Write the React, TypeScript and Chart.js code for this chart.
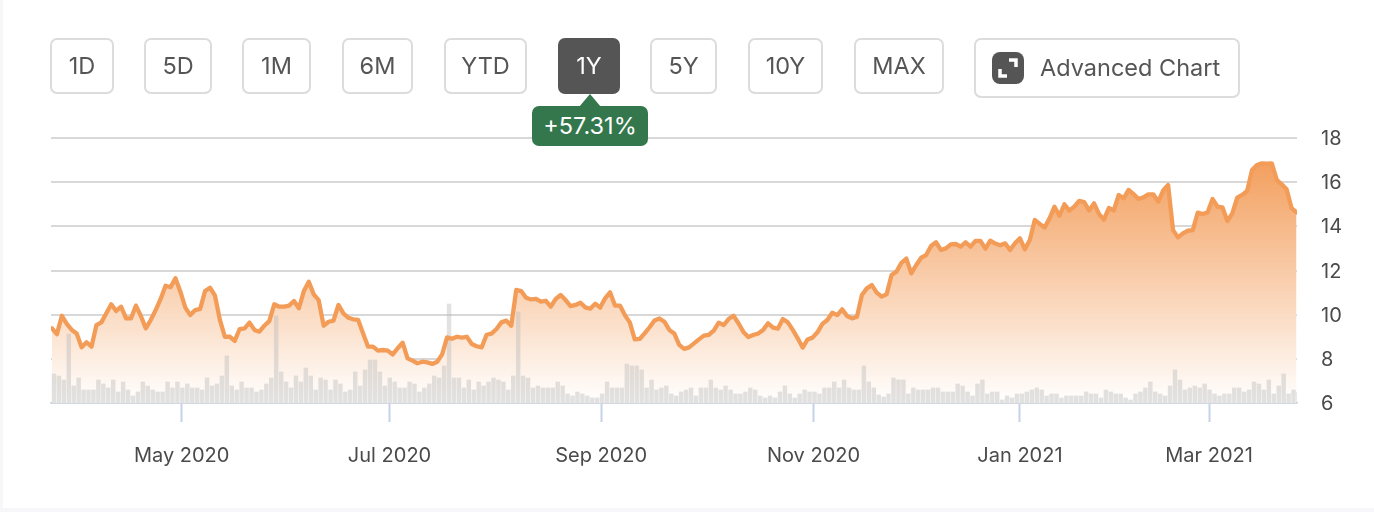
import React, { useEffect, useRef } from "react";
import { Chart, registerables } from "chart.js";

Chart.register(...registerables);

const FONT = "Inter, 'Noto Sans', sans-serif";

const prices = [
  9.38, 9.12, 9.95, 9.58, 9.31, 9.15, 8.52, 8.75, 8.55, 9.53, 9.65, 10.06, 10.47, 10.17, 10.36, 9.83, 9.83, 10.41, 9.94, 9.38,
  9.76, 10.21, 10.71, 11.31, 11.24, 11.65, 11.04, 10.32, 9.98, 10.21, 10.26, 11.07, 11.22, 10.86, 9.76, 9.0, 9.0, 8.81, 9.35, 9.38,
  9.64, 9.31, 9.23, 9.5, 9.71, 10.47, 10.36, 10.36, 10.41, 10.62, 10.29, 11.07, 11.49, 10.92, 10.66, 9.5, 9.68, 9.73, 10.44, 10.06,
  9.86, 9.79, 9.76, 9.15, 8.55, 8.55, 8.37, 8.4, 8.37, 8.2, 8.48, 8.73, 8.02, 7.92, 7.8, 7.87, 7.84, 7.77, 7.87, 8.2,
  8.97, 8.91, 9.0, 8.96, 9.0, 8.67, 8.57, 8.52, 9.09, 9.14, 9.35, 9.65, 9.73, 9.5, 11.12, 11.07, 10.77, 10.69, 10.72, 10.59,
  10.63, 10.36, 10.71, 10.89, 10.66, 10.39, 10.44, 10.54, 10.33, 10.27, 10.5, 10.32, 10.74, 11.01, 10.41, 10.41, 9.98, 9.65, 8.88, 8.9,
  9.15, 9.43, 9.74, 9.83, 9.68, 9.31, 9.15, 8.63, 8.45, 8.52, 8.7, 8.88, 9.05, 9.09, 9.28, 9.64, 9.53, 9.8, 9.95, 9.61,
  9.22, 8.99, 9.08, 9.15, 9.31, 9.61, 9.41, 9.37, 9.8, 9.65, 9.31, 8.93, 8.51, 8.88, 8.96, 9.2, 9.58, 9.76, 10.09, 9.98,
  10.24, 9.94, 9.83, 9.91, 10.89, 11.19, 11.34, 11.0, 10.82, 10.92, 11.8, 11.95, 12.35, 12.54, 11.87, 12.25, 12.58, 12.7, 13.11, 13.28,
  12.93, 13.0, 13.18, 13.2, 13.08, 13.28, 13.08, 13.34, 13.34, 12.99, 13.35, 13.22, 13.14, 13.23, 12.93, 13.23, 13.46, 12.96, 13.38, 14.29,
  14.11, 13.95, 14.36, 14.89, 14.48, 15.0, 14.71, 14.89, 15.15, 15.1, 14.72, 15.04, 14.56, 14.3, 14.83, 14.72, 15.42, 15.27, 15.65, 15.46,
  15.24, 15.31, 15.45, 15.45, 15.12, 15.62, 15.87, 13.83, 13.5, 13.68, 13.8, 13.83, 14.62, 14.56, 14.63, 15.24, 14.89, 14.86, 14.24, 14.59,
  15.3, 15.42, 15.6, 16.55, 16.78, 16.85, 16.84, 16.85, 16.1, 15.9, 15.68, 14.82, 14.63,
];

const volumes = [
  29, 27, 23, 69, 17, 25, 13, 13, 13, 23, 19, 15, 23, 11, 21, 13, 7, 11, 21, 17,
  13, 11, 11, 21, 15, 21, 15, 19, 15, 15, 13, 25, 17, 19, 27, 47, 17, 13, 21, 15,
  15, 11, 13, 19, 25, 87, 31, 21, 15, 27, 21, 35, 27, 13, 25, 23, 13, 23, 19, 11,
  13, 31, 17, 33, 43, 43, 31, 17, 25, 21, 15, 15, 21, 19, 11, 15, 19, 27, 25, 37,
  99, 25, 25, 15, 23, 13, 21, 17, 21, 25, 23, 21, 13, 27, 91, 27, 25, 15, 17, 15,
  15, 15, 21, 17, 9, 7, 11, 9, 7, 5, 5, 9, 21, 15, 15, 15, 39, 37, 37, 33,
  15, 23, 13, 15, 17, 9, 7, 11, 13, 15, 7, 15, 15, 23, 15, 13, 17, 13, 9, 9,
  11, 15, 13, 7, 5, 7, 5, 11, 17, 9, 5, 9, 13, 11, 11, 9, 15, 15, 21, 15,
  23, 15, 13, 13, 37, 21, 15, 8, 6, 9, 25, 23, 23, 9, 15, 13, 13, 13, 15, 15,
  11, 11, 11, 19, 17, 11, 7, 19, 23, 9, 11, 11, 3, 7, 5, 9, 9, 11, 13, 15,
  13, 7, 9, 9, 5, 7, 7, 7, 7, 11, 9, 9, 5, 13, 11, 9, 9, 5, 3, 9,
  11, 15, 21, 11, 9, 7, 17, 33, 23, 13, 15, 17, 15, 19, 13, 9, 7, 9, 9, 15,
  15, 11, 13, 21, 19, 13, 23, 9, 17, 29, 9, 13, 11,
];

const monthIndex = [26.25, 68.35, 111.2, 154.2, 196, 234.3];
const monthLabels = ["May 2020", "Jul 2020", "Sep 2020", "Nov 2020", "Jan 2021", "Mar 2021"];
const priceTicks = [6, 8, 10, 12, 14, 16, 18];

const ranges = [
  { t: "1D", l: 50, w: 64 },
  { t: "5D", l: 144, w: 68 },
  { t: "1M", l: 242, w: 69 },
  { t: "6M", l: 342, w: 71 },
  { t: "YTD", l: 444, w: 83 },
  { t: "1Y", l: 558, w: 62, active: true },
  { t: "5Y", l: 650, w: 67 },
  { t: "10Y", l: 748, w: 75 },
  { t: "MAX", l: 854, w: 90 },
];

export default function App() {
  const ref = useRef<HTMLCanvasElement | null>(null);

  useEffect(() => {
    if (!ref.current) return;
    const areaFill = (c: any) => {
      const { chart } = c;
      const a = chart.chartArea;
      if (!a) return "#f3a05f";
      const yTop = chart.scales.y.getPixelForValue(16.85);
      const g = chart.ctx.createLinearGradient(0, yTop, 0, a.bottom);
      g.addColorStop(0, "#f3a05f");
      g.addColorStop(1, "#ffffff");
      return g;
    };
    const pts = prices.map((y, x) => ({ x, y }));
    const chart = new Chart(ref.current, {
      type: "line",
      data: {
        datasets: [
          {
            type: "line",
            data: pts,
            yAxisID: "y",
            order: 3,
            borderWidth: 0,
            pointRadius: 0,
            fill: "start",
            backgroundColor: areaFill,
          },
          {
            type: "bar",
            data: volumes.map((y, i) => ({ x: i + 0.4, y })),
            yAxisID: "yVol",
            order: 2,
            barThickness: 3.8,
            backgroundColor: "rgba(185,185,185,0.42)",
          },
          {
            type: "line",
            data: pts,
            yAxisID: "y",
            order: 1,
            borderColor: "#f39c58",
            borderWidth: 4.3,
            borderJoinStyle: "round",
            borderCapStyle: "round",
            pointRadius: 0,
            tension: 0,
            fill: false,
          },
        ],
      } as any,
      options: {
        responsive: false,
        animation: false,
        devicePixelRatio: 1,
        layout: { padding: { left: 51, top: 138, right: 0, bottom: 0 } },
        plugins: { legend: { display: false }, tooltip: { enabled: false } },
        scales: {
          x: {
            type: "linear",
            offset: false,
            min: -0.2,
            max: 252.1,
            afterFit: (s: any) => { s.height = 109; },
            afterBuildTicks: (s: any) => { s.ticks = monthIndex.map((value) => ({ value })); },
            grid: { offset: false, drawOnChartArea: false, drawTicks: true, tickLength: 19, tickColor: "#c6d2e8", tickWidth: 2 },
            border: { color: "#ccd6eb", width: 1.5 },
            ticks: {
              autoSkip: false,
              maxRotation: 0,
              padding: 22,
              color: "#4a4a4a",
              font: { family: FONT, size: 20 },
              callback: (v: any) => monthLabels[monthIndex.indexOf(v)] ?? "",
            },
          },
          y: {
            position: "right",
            min: 6,
            max: 18,
            afterFit: (s: any) => { s.width = 77; },
            afterBuildTicks: (s: any) => { s.ticks = priceTicks.map((value) => ({ value })); },
            grid: { color: "#d8d8d8", lineWidth: 2, drawTicks: false },
            border: { display: false },
            ticks: { padding: 24, labelOffset: 1, color: "#4a4a4a", font: { family: FONT, size: 20 } },
          },
          yVol: { display: false, position: "right", min: 0, max: 265 },
        },
      } as any,
    });
    return () => chart.destroy();
  }, []);

  const base: React.CSSProperties = {
    position: "absolute",
    boxSizing: "border-box",
    top: 38,
    height: 56,
    border: "2px solid #dcdcdc",
    borderRadius: 7,
    display: "flex",
    alignItems: "center",
    justifyContent: "center",
    fontFamily: FONT,
    fontSize: 23.5,
    color: "#555",
    background: "#fff",
  };

  return (
    <div style={{ position: "fixed", left: 0, top: 0, width: 1374, height: 512, background: "#f7f7f9", overflow: "hidden" }}>
      <div style={{ position: "absolute", left: 3, top: 0, width: 1371, height: 508, background: "#fff" }} />
      <canvas ref={ref} width={1374} height={512} style={{ position: "absolute", left: 0, top: 0, width: 1374, height: 512 }} />
      {ranges.map((r) => (
        <div
          key={r.t}
          style={{
            ...base,
            left: r.l,
            width: r.w,
            ...(r.active ? { background: "#555", borderColor: "#555", color: "#fff" } : {}),
          }}
        >
          <span style={{ position: "relative", top: -1 }}>{r.t}</span>
        </div>
      ))}
      <div style={{ ...base, left: 974, width: 266, height: 60, justifyContent: "flex-start" }}>
        <svg width={32} height={32} viewBox="0 0 32 32" style={{ marginLeft: 16 }}>
          <rect x={0} y={0} width={32} height={32} rx={8} fill="#555" />
          <path d="M17 8 H24 V15 M15 24 H8 V17" fill="none" stroke="#fff" strokeWidth={3.5} />
        </svg>
        <span style={{ marginLeft: 16, position: "relative", top: -1 }}>Advanced Chart</span>
      </div>
      <svg width={24} height={13} style={{ position: "absolute", left: 578, top: 94 }}>
        <path d="M1 13 L12 0 L23 13 Z" fill="#34774c" />
      </svg>
      <div
        style={{
          position: "absolute",
          left: 532,
          top: 106,
          width: 116,
          height: 40,
          borderRadius: 7,
          background: "#34774c",
          color: "#fff",
          display: "flex",
          alignItems: "center",
          justifyContent: "center",
          fontFamily: FONT,
          fontSize: 23.5,
        }}
      >
        <span style={{ position: "relative", top: -1 }}>+57.31%</span>
      </div>
    </div>
  );
}
